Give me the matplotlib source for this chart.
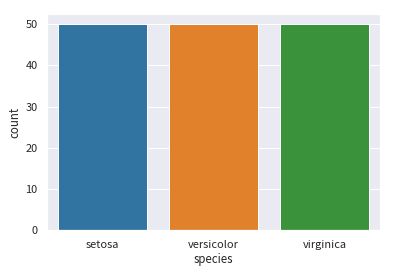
import matplotlib
matplotlib.use("Agg")
import matplotlib.pyplot as plt
import seaborn as sns

species = ["setosa", "versicolor", "virginica"]
counts = [50, 50, 50]
colors = ["#3274a1", "#e1812c", "#3a923a"]

sns.set_theme(style="darkgrid")
plt.rcParams['font.family'] = ['Noto Sans CJK JP', 'DejaVu Sans']

dpi = 72
fig = plt.figure(figsize=(393 / dpi, 273 / dpi), dpi=dpi)
ax = fig.add_axes([47 / 393, (273 - 230) / 273, (380 - 47) / 393, (230 - 14) / 273])
ax.bar(range(len(species)), counts, width=0.8, color=colors, edgecolor="white", linewidth=1)
ax.set_xticks(range(len(species)))
ax.set_xticklabels(species)
ax.set_xlim(-0.5, 2.5)
ax.set_ylim(0, 52.5)
ax.set_xlabel("species", fontsize=11.5)
ax.set_ylabel("count", fontsize=11.5)
ax.xaxis.grid(False)
fig.savefig("out.png", dpi=dpi)
